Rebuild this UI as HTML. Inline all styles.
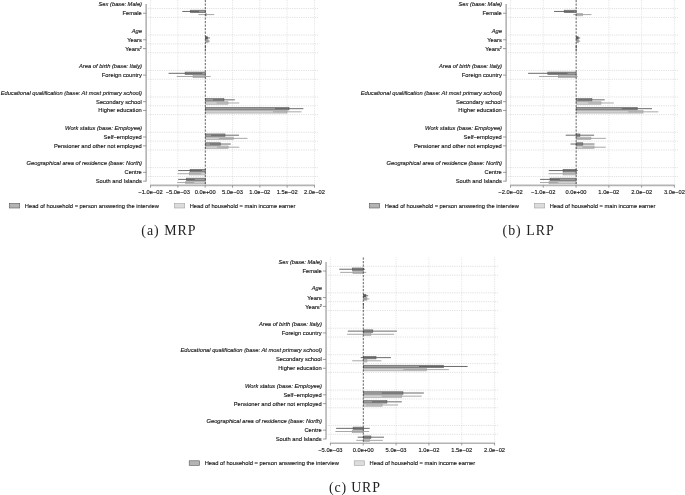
<!DOCTYPE html>
<html lang="en">
<head>
<meta charset="utf-8">
<title>Figure: MRP, LRP, URP</title>
<style>
html,body{margin:0;padding:0;background:#fff;}
body{width:685px;height:495px;overflow:hidden;}
svg{display:block;}
text{font-family:"Liberation Sans",Arial,Helvetica,sans-serif;font-size:5.75px;fill:#141414;stroke:#141414;stroke-width:0.13px;}
.ylab text{text-anchor:end;}
.ylab .it{font-style:italic;}
.sup{font-size:3.6px;}
.xlab text{text-anchor:middle;}
.grid line{stroke:#b8b8b8;stroke-width:0.6;stroke-dasharray:0.7 1.1;}
.grid line.v{stroke:#c8c8c8;}
.zero{stroke:#3a3a3a;stroke-width:0.8;stroke-dasharray:2.2 1.3;}
.axis line{stroke:#777;stroke-width:0.7;}
.axis line.ax{stroke:#b4b4b4;stroke-width:1.6;}
text.cap{font-family:"Liberation Serif","Times New Roman",serif;font-size:13.9px;text-anchor:middle;fill:#222;letter-spacing:1px;stroke:none;}
</style>
</head>
<body>
<svg width="685" height="495" viewBox="0 0 685 495">
<rect x="0" y="0" width="685" height="495" fill="#ffffff"/>
<g class="panel-a">
<g class="grid">
<line class="v" x1="150.5" y1="0" x2="150.5" y2="185.4"/>
<line class="v" x1="177.83" y1="0" x2="177.83" y2="185.4"/>
<line class="v" x1="232.5" y1="0" x2="232.5" y2="185.4"/>
<line class="v" x1="259.83" y1="0" x2="259.83" y2="185.4"/>
<line class="v" x1="287.17" y1="0" x2="287.17" y2="185.4"/>
<line class="v" x1="314.5" y1="0" x2="314.5" y2="185.4"/>
<line x1="146.15" y1="8.54" x2="318.9" y2="8.54"/>
<line x1="146.15" y1="17.38" x2="318.9" y2="17.38"/>
<line x1="146.15" y1="35.06" x2="318.9" y2="35.06"/>
<line x1="146.15" y1="43.9" x2="318.9" y2="43.9"/>
<line x1="146.15" y1="52.74" x2="318.9" y2="52.74"/>
<line x1="146.15" y1="70.42" x2="318.9" y2="70.42"/>
<line x1="146.15" y1="79.26" x2="318.9" y2="79.26"/>
<line x1="146.15" y1="96.94" x2="318.9" y2="96.94"/>
<line x1="146.15" y1="105.78" x2="318.9" y2="105.78"/>
<line x1="146.15" y1="114.62" x2="318.9" y2="114.62"/>
<line x1="146.15" y1="132.3" x2="318.9" y2="132.3"/>
<line x1="146.15" y1="141.14" x2="318.9" y2="141.14"/>
<line x1="146.15" y1="149.98" x2="318.9" y2="149.98"/>
<line x1="146.15" y1="167.66" x2="318.9" y2="167.66"/>
<line x1="146.15" y1="176.5" x2="318.9" y2="176.5"/>
</g>
<rect x="190.4" y="10.19" width="14.9" height="2.5" fill="#9a9a9a" stroke="#5a5a5a" stroke-width="0.6"/>
<line x1="182.3" y1="11.44" x2="199" y2="11.44" stroke="#5a5a5a" stroke-width="0.9"/>
<rect x="205.3" y="13.34" width="1" height="2.5" fill="#d0d0d0" stroke="#9e9e9e" stroke-width="0.6"/>
<line x1="198.4" y1="14.59" x2="214.2" y2="14.59" stroke="#9e9e9e" stroke-width="0.9"/>
<rect x="205.3" y="36.71" width="2.3" height="2.5" fill="#5a5a5a" stroke="#5a5a5a" stroke-width="0.6"/>
<line x1="205.6" y1="37.96" x2="209.9" y2="37.96" stroke="#5a5a5a" stroke-width="0.9"/>
<rect x="205.3" y="39.86" width="3.1" height="2.5" fill="#9e9e9e" stroke="#9e9e9e" stroke-width="0.6"/>
<line x1="206.3" y1="41.11" x2="210" y2="41.11" stroke="#9e9e9e" stroke-width="0.9"/>
<rect x="205.2" y="45.55" width="0.3" height="2.5" fill="#5a5a5a" stroke="#5a5a5a" stroke-width="0.6"/>
<line x1="205.1" y1="46.8" x2="205.3" y2="46.8" stroke="#5a5a5a" stroke-width="0.9"/>
<rect x="205.2" y="48.7" width="0.3" height="2.5" fill="#9e9e9e" stroke="#9e9e9e" stroke-width="0.6"/>
<line x1="205.1" y1="49.95" x2="205.3" y2="49.95" stroke="#9e9e9e" stroke-width="0.9"/>
<rect x="185.1" y="72.07" width="20.2" height="2.5" fill="#9a9a9a" stroke="#5a5a5a" stroke-width="0.6"/>
<line x1="168.6" y1="73.32" x2="202.2" y2="73.32" stroke="#5a5a5a" stroke-width="0.9"/>
<rect x="193.1" y="75.22" width="12.2" height="2.5" fill="#d0d0d0" stroke="#9e9e9e" stroke-width="0.6"/>
<line x1="176.7" y1="76.47" x2="210.6" y2="76.47" stroke="#9e9e9e" stroke-width="0.9"/>
<rect x="205.3" y="98.59" width="18.6" height="2.5" fill="#9a9a9a" stroke="#5a5a5a" stroke-width="0.6"/>
<line x1="213" y1="99.84" x2="234.8" y2="99.84" stroke="#5a5a5a" stroke-width="0.9"/>
<rect x="205.3" y="101.74" width="22.7" height="2.5" fill="#d0d0d0" stroke="#9e9e9e" stroke-width="0.6"/>
<line x1="216.6" y1="102.99" x2="239.3" y2="102.99" stroke="#9e9e9e" stroke-width="0.9"/>
<rect x="205.3" y="107.43" width="83.7" height="2.5" fill="#9a9a9a" stroke="#5a5a5a" stroke-width="0.6"/>
<line x1="275" y1="108.68" x2="303.4" y2="108.68" stroke="#5a5a5a" stroke-width="0.9"/>
<rect x="205.3" y="110.58" width="81.7" height="2.5" fill="#d0d0d0" stroke="#9e9e9e" stroke-width="0.6"/>
<line x1="273" y1="111.83" x2="301.5" y2="111.83" stroke="#9e9e9e" stroke-width="0.9"/>
<rect x="205.3" y="133.95" width="19.7" height="2.5" fill="#9a9a9a" stroke="#5a5a5a" stroke-width="0.6"/>
<line x1="211.1" y1="135.2" x2="239" y2="135.2" stroke="#5a5a5a" stroke-width="0.9"/>
<rect x="205.3" y="137.1" width="28.2" height="2.5" fill="#d0d0d0" stroke="#9e9e9e" stroke-width="0.6"/>
<line x1="218.8" y1="138.35" x2="247.5" y2="138.35" stroke="#9e9e9e" stroke-width="0.9"/>
<rect x="205.3" y="142.79" width="15" height="2.5" fill="#9a9a9a" stroke="#5a5a5a" stroke-width="0.6"/>
<line x1="209.8" y1="144.04" x2="230.8" y2="144.04" stroke="#5a5a5a" stroke-width="0.9"/>
<rect x="205.3" y="145.94" width="22.8" height="2.5" fill="#d0d0d0" stroke="#9e9e9e" stroke-width="0.6"/>
<line x1="217" y1="147.19" x2="239.3" y2="147.19" stroke="#9e9e9e" stroke-width="0.9"/>
<rect x="190.1" y="169.31" width="15.2" height="2.5" fill="#9a9a9a" stroke="#5a5a5a" stroke-width="0.6"/>
<line x1="178.2" y1="170.56" x2="202" y2="170.56" stroke="#5a5a5a" stroke-width="0.9"/>
<rect x="189.5" y="172.46" width="15.8" height="2.5" fill="#d0d0d0" stroke="#9e9e9e" stroke-width="0.6"/>
<line x1="177.7" y1="173.71" x2="201.3" y2="173.71" stroke="#9e9e9e" stroke-width="0.9"/>
<rect x="186.4" y="178.15" width="18.9" height="2.5" fill="#9a9a9a" stroke="#5a5a5a" stroke-width="0.6"/>
<line x1="178.2" y1="179.4" x2="194.7" y2="179.4" stroke="#5a5a5a" stroke-width="0.9"/>
<rect x="185.7" y="181.3" width="19.6" height="2.5" fill="#d0d0d0" stroke="#9e9e9e" stroke-width="0.6"/>
<line x1="177.2" y1="182.55" x2="194.2" y2="182.55" stroke="#9e9e9e" stroke-width="0.9"/>
<line class="zero" x1="205.3" y1="0" x2="205.3" y2="185.4"/>
<g class="axis">
<line class="ax" x1="146.15" y1="4.1" x2="146.15" y2="181.5"/>
<line class="ax" x1="150.1" y1="185.4" x2="314.9" y2="185.4"/>
<line x1="143" y1="13.24" x2="146.15" y2="13.24"/>
<line x1="143" y1="39.76" x2="146.15" y2="39.76"/>
<line x1="143" y1="48.6" x2="146.15" y2="48.6"/>
<line x1="143" y1="75.12" x2="146.15" y2="75.12"/>
<line x1="143" y1="101.64" x2="146.15" y2="101.64"/>
<line x1="143" y1="110.48" x2="146.15" y2="110.48"/>
<line x1="143" y1="137" x2="146.15" y2="137"/>
<line x1="143" y1="145.84" x2="146.15" y2="145.84"/>
<line x1="143" y1="172.36" x2="146.15" y2="172.36"/>
<line x1="143" y1="181.2" x2="146.15" y2="181.2"/>
<line x1="150.5" y1="185.4" x2="150.5" y2="187.7"/>
<line x1="177.83" y1="185.4" x2="177.83" y2="187.7"/>
<line x1="205.17" y1="185.4" x2="205.17" y2="187.7"/>
<line x1="232.5" y1="185.4" x2="232.5" y2="187.7"/>
<line x1="259.83" y1="185.4" x2="259.83" y2="187.7"/>
<line x1="287.17" y1="185.4" x2="287.17" y2="187.7"/>
<line x1="314.5" y1="185.4" x2="314.5" y2="187.7"/>
</g>
<g class="ylab">
<text x="142" y="6.1" class="it">Sex (base: Male)</text>
<text x="141.8" y="15.42">Female</text>
<text x="142" y="32.62" class="it">Age</text>
<text x="141.8" y="41.88">Years</text>
<text x="141.8" y="50.7">Years<tspan class="sup" dy="-2">2</tspan></text>
<text x="142" y="67.98" class="it">Area of birth (base: Italy)</text>
<text x="141.8" y="77.16">Foreign country</text>
<text x="142" y="94.5" class="it">Educational qualification (base: At most primary school)</text>
<text x="141.8" y="103.62">Secondary school</text>
<text x="141.8" y="112.44">Higher education</text>
<text x="142" y="129.86" class="it">Work status (base: Employee)</text>
<text x="141.8" y="138.9">Self−employed</text>
<text x="141.8" y="147.72">Pensioner and other not employed</text>
<text x="142" y="165.22" class="it">Geographical area of residence (base: North)</text>
<text x="141.8" y="174.18">Centre</text>
<text x="141.8" y="183">South and Islands</text>
</g>
<g class="xlab">
<text x="150.5" y="193.7">−1.0e−02</text>
<text x="177.83" y="193.7">−5.0e−03</text>
<text x="205.17" y="193.7">0.0e+00</text>
<text x="232.5" y="193.7">5.0e−03</text>
<text x="259.83" y="193.7">1.0e−02</text>
<text x="287.17" y="193.7">1.5e−02</text>
<text x="314.5" y="193.7">2.0e−02</text>
</g>
<g class="leg">
<rect x="9.3" y="203.4" width="10.4" height="4.6" fill="#b4b4b4" stroke="#5a5a5a" stroke-width="0.6"/>
<text x="24.8" y="207.7">Head of household = person answering the interview</text>
<rect x="174.3" y="203.4" width="10.4" height="4.6" fill="#dcdcdc" stroke="#a4a4a4" stroke-width="0.6"/>
<text x="189.7" y="207.7">Head of household = main income earner</text>
</g>
<text class="cap" x="168.9" y="234.7">(a) MRP</text>
</g>
<g class="panel-b">
<g class="grid">
<line class="v" x1="510.5" y1="0" x2="510.5" y2="185.4"/>
<line class="v" x1="543.28" y1="0" x2="543.28" y2="185.4"/>
<line class="v" x1="608.84" y1="0" x2="608.84" y2="185.4"/>
<line class="v" x1="641.62" y1="0" x2="641.62" y2="185.4"/>
<line class="v" x1="674.4" y1="0" x2="674.4" y2="185.4"/>
<line x1="506.15" y1="8.54" x2="678.9" y2="8.54"/>
<line x1="506.15" y1="17.38" x2="678.9" y2="17.38"/>
<line x1="506.15" y1="35.06" x2="678.9" y2="35.06"/>
<line x1="506.15" y1="43.9" x2="678.9" y2="43.9"/>
<line x1="506.15" y1="52.74" x2="678.9" y2="52.74"/>
<line x1="506.15" y1="70.42" x2="678.9" y2="70.42"/>
<line x1="506.15" y1="79.26" x2="678.9" y2="79.26"/>
<line x1="506.15" y1="96.94" x2="678.9" y2="96.94"/>
<line x1="506.15" y1="105.78" x2="678.9" y2="105.78"/>
<line x1="506.15" y1="114.62" x2="678.9" y2="114.62"/>
<line x1="506.15" y1="132.3" x2="678.9" y2="132.3"/>
<line x1="506.15" y1="141.14" x2="678.9" y2="141.14"/>
<line x1="506.15" y1="149.98" x2="678.9" y2="149.98"/>
<line x1="506.15" y1="167.66" x2="678.9" y2="167.66"/>
<line x1="506.15" y1="176.5" x2="678.9" y2="176.5"/>
</g>
<rect x="564.2" y="10.19" width="11.95" height="2.5" fill="#9a9a9a" stroke="#5a5a5a" stroke-width="0.6"/>
<line x1="554" y1="11.44" x2="574.4" y2="11.44" stroke="#5a5a5a" stroke-width="0.9"/>
<rect x="576.15" y="13.34" width="6.45" height="2.5" fill="#d0d0d0" stroke="#9e9e9e" stroke-width="0.6"/>
<line x1="573.3" y1="14.59" x2="591.5" y2="14.59" stroke="#9e9e9e" stroke-width="0.9"/>
<rect x="576.15" y="36.71" width="2.05" height="2.5" fill="#5a5a5a" stroke="#5a5a5a" stroke-width="0.6"/>
<line x1="576.4" y1="37.96" x2="580.2" y2="37.96" stroke="#5a5a5a" stroke-width="0.9"/>
<rect x="576.15" y="39.86" width="2.65" height="2.5" fill="#9e9e9e" stroke="#9e9e9e" stroke-width="0.6"/>
<line x1="577.2" y1="41.11" x2="580.3" y2="41.11" stroke="#9e9e9e" stroke-width="0.9"/>
<rect x="576" y="45.55" width="0.3" height="2.5" fill="#5a5a5a" stroke="#5a5a5a" stroke-width="0.6"/>
<line x1="575.9" y1="46.8" x2="576.1" y2="46.8" stroke="#5a5a5a" stroke-width="0.9"/>
<rect x="576" y="48.7" width="0.3" height="2.5" fill="#9e9e9e" stroke="#9e9e9e" stroke-width="0.6"/>
<line x1="575.9" y1="49.95" x2="576.1" y2="49.95" stroke="#9e9e9e" stroke-width="0.9"/>
<rect x="547.8" y="72.07" width="28.35" height="2.5" fill="#9a9a9a" stroke="#5a5a5a" stroke-width="0.6"/>
<line x1="528.1" y1="73.32" x2="567.5" y2="73.32" stroke="#5a5a5a" stroke-width="0.9"/>
<rect x="558.3" y="75.22" width="17.85" height="2.5" fill="#d0d0d0" stroke="#9e9e9e" stroke-width="0.6"/>
<line x1="539" y1="76.47" x2="577.7" y2="76.47" stroke="#9e9e9e" stroke-width="0.9"/>
<rect x="576.15" y="98.59" width="15.75" height="2.5" fill="#9a9a9a" stroke="#5a5a5a" stroke-width="0.6"/>
<line x1="578" y1="99.84" x2="604.7" y2="99.84" stroke="#5a5a5a" stroke-width="0.9"/>
<rect x="576.15" y="101.74" width="24.85" height="2.5" fill="#d0d0d0" stroke="#9e9e9e" stroke-width="0.6"/>
<line x1="588.2" y1="102.99" x2="613.8" y2="102.99" stroke="#9e9e9e" stroke-width="0.9"/>
<rect x="576.15" y="107.43" width="61.05" height="2.5" fill="#9a9a9a" stroke="#5a5a5a" stroke-width="0.6"/>
<line x1="621.8" y1="108.68" x2="652" y2="108.68" stroke="#5a5a5a" stroke-width="0.9"/>
<rect x="576.15" y="110.58" width="66.85" height="2.5" fill="#d0d0d0" stroke="#9e9e9e" stroke-width="0.6"/>
<line x1="628.1" y1="111.83" x2="658.3" y2="111.83" stroke="#9e9e9e" stroke-width="0.9"/>
<rect x="576.15" y="133.95" width="3.75" height="2.5" fill="#9a9a9a" stroke="#5a5a5a" stroke-width="0.6"/>
<line x1="565.7" y1="135.2" x2="594.1" y2="135.2" stroke="#5a5a5a" stroke-width="0.9"/>
<rect x="576.15" y="137.1" width="14.75" height="2.5" fill="#d0d0d0" stroke="#9e9e9e" stroke-width="0.6"/>
<line x1="576" y1="138.35" x2="605.8" y2="138.35" stroke="#9e9e9e" stroke-width="0.9"/>
<rect x="576.15" y="142.79" width="6.65" height="2.5" fill="#9a9a9a" stroke="#5a5a5a" stroke-width="0.6"/>
<line x1="570.5" y1="144.04" x2="594.5" y2="144.04" stroke="#5a5a5a" stroke-width="0.9"/>
<rect x="576.15" y="145.94" width="17.95" height="2.5" fill="#d0d0d0" stroke="#9e9e9e" stroke-width="0.6"/>
<line x1="582.4" y1="147.19" x2="605.8" y2="147.19" stroke="#9e9e9e" stroke-width="0.9"/>
<rect x="563.1" y="169.31" width="13.05" height="2.5" fill="#9a9a9a" stroke="#5a5a5a" stroke-width="0.6"/>
<line x1="548.8" y1="170.56" x2="577.7" y2="170.56" stroke="#5a5a5a" stroke-width="0.9"/>
<rect x="563.1" y="172.46" width="13.05" height="2.5" fill="#d0d0d0" stroke="#9e9e9e" stroke-width="0.6"/>
<line x1="548.5" y1="173.71" x2="577.3" y2="173.71" stroke="#9e9e9e" stroke-width="0.9"/>
<rect x="550" y="178.15" width="26.15" height="2.5" fill="#9a9a9a" stroke="#5a5a5a" stroke-width="0.6"/>
<line x1="540" y1="179.4" x2="559.9" y2="179.4" stroke="#5a5a5a" stroke-width="0.9"/>
<rect x="549.1" y="181.3" width="27.05" height="2.5" fill="#d0d0d0" stroke="#9e9e9e" stroke-width="0.6"/>
<line x1="540" y1="182.55" x2="558.2" y2="182.55" stroke="#9e9e9e" stroke-width="0.9"/>
<line class="zero" x1="576.15" y1="0" x2="576.15" y2="185.4"/>
<g class="axis">
<line class="ax" x1="506.15" y1="4.1" x2="506.15" y2="181.5"/>
<line class="ax" x1="510.1" y1="185.4" x2="674.8" y2="185.4"/>
<line x1="503" y1="13.24" x2="506.15" y2="13.24"/>
<line x1="503" y1="39.76" x2="506.15" y2="39.76"/>
<line x1="503" y1="48.6" x2="506.15" y2="48.6"/>
<line x1="503" y1="75.12" x2="506.15" y2="75.12"/>
<line x1="503" y1="101.64" x2="506.15" y2="101.64"/>
<line x1="503" y1="110.48" x2="506.15" y2="110.48"/>
<line x1="503" y1="137" x2="506.15" y2="137"/>
<line x1="503" y1="145.84" x2="506.15" y2="145.84"/>
<line x1="503" y1="172.36" x2="506.15" y2="172.36"/>
<line x1="503" y1="181.2" x2="506.15" y2="181.2"/>
<line x1="510.5" y1="185.4" x2="510.5" y2="187.7"/>
<line x1="543.28" y1="185.4" x2="543.28" y2="187.7"/>
<line x1="576.06" y1="185.4" x2="576.06" y2="187.7"/>
<line x1="608.84" y1="185.4" x2="608.84" y2="187.7"/>
<line x1="641.62" y1="185.4" x2="641.62" y2="187.7"/>
<line x1="674.4" y1="185.4" x2="674.4" y2="187.7"/>
</g>
<g class="ylab">
<text x="502" y="6.1" class="it">Sex (base: Male)</text>
<text x="501.8" y="15.42">Female</text>
<text x="502" y="32.62" class="it">Age</text>
<text x="501.8" y="41.88">Years</text>
<text x="501.8" y="50.7">Years<tspan class="sup" dy="-2">2</tspan></text>
<text x="502" y="67.98" class="it">Area of birth (base: Italy)</text>
<text x="501.8" y="77.16">Foreign country</text>
<text x="502" y="94.5" class="it">Educational qualification (base: At most primary school)</text>
<text x="501.8" y="103.62">Secondary school</text>
<text x="501.8" y="112.44">Higher education</text>
<text x="502" y="129.86" class="it">Work status (base: Employee)</text>
<text x="501.8" y="138.9">Self−employed</text>
<text x="501.8" y="147.72">Pensioner and other not employed</text>
<text x="502" y="165.22" class="it">Geographical area of residence (base: North)</text>
<text x="501.8" y="174.18">Centre</text>
<text x="501.8" y="183">South and Islands</text>
</g>
<g class="xlab">
<text x="510.5" y="193.7">−2.0e−02</text>
<text x="543.28" y="193.7">−1.0e−02</text>
<text x="576.06" y="193.7">0.0e+00</text>
<text x="608.84" y="193.7">1.0e−02</text>
<text x="641.62" y="193.7">2.0e−02</text>
<text x="674.4" y="193.7">3.0e−02</text>
</g>
<g class="leg">
<rect x="369.3" y="203.4" width="10.4" height="4.6" fill="#b4b4b4" stroke="#5a5a5a" stroke-width="0.6"/>
<text x="384.8" y="207.7">Head of household = person answering the interview</text>
<rect x="534.3" y="203.4" width="10.4" height="4.6" fill="#dcdcdc" stroke="#a4a4a4" stroke-width="0.6"/>
<text x="549.7" y="207.7">Head of household = main income earner</text>
</g>
<text class="cap" x="528.6" y="234.7">(b) LRP</text>
</g>
<g class="panel-c">
<g class="grid">
<line class="v" x1="330.4" y1="257.5" x2="330.4" y2="443.2"/>
<line class="v" x1="396.08" y1="257.5" x2="396.08" y2="443.2"/>
<line class="v" x1="428.92" y1="257.5" x2="428.92" y2="443.2"/>
<line class="v" x1="461.76" y1="257.5" x2="461.76" y2="443.2"/>
<line class="v" x1="494.6" y1="257.5" x2="494.6" y2="443.2"/>
<line x1="326.05" y1="266.34" x2="498.8" y2="266.34"/>
<line x1="326.05" y1="275.18" x2="498.8" y2="275.18"/>
<line x1="326.05" y1="292.86" x2="498.8" y2="292.86"/>
<line x1="326.05" y1="301.7" x2="498.8" y2="301.7"/>
<line x1="326.05" y1="310.54" x2="498.8" y2="310.54"/>
<line x1="326.05" y1="328.22" x2="498.8" y2="328.22"/>
<line x1="326.05" y1="337.06" x2="498.8" y2="337.06"/>
<line x1="326.05" y1="354.74" x2="498.8" y2="354.74"/>
<line x1="326.05" y1="363.58" x2="498.8" y2="363.58"/>
<line x1="326.05" y1="372.42" x2="498.8" y2="372.42"/>
<line x1="326.05" y1="390.1" x2="498.8" y2="390.1"/>
<line x1="326.05" y1="398.94" x2="498.8" y2="398.94"/>
<line x1="326.05" y1="407.78" x2="498.8" y2="407.78"/>
<line x1="326.05" y1="425.46" x2="498.8" y2="425.46"/>
<line x1="326.05" y1="434.3" x2="498.8" y2="434.3"/>
</g>
<rect x="352.3" y="267.99" width="11" height="2.5" fill="#9a9a9a" stroke="#5a5a5a" stroke-width="0.6"/>
<line x1="339.2" y1="269.24" x2="364.9" y2="269.24" stroke="#5a5a5a" stroke-width="0.9"/>
<rect x="352.9" y="271.14" width="10.4" height="2.5" fill="#d0d0d0" stroke="#9e9e9e" stroke-width="0.6"/>
<line x1="340.2" y1="272.39" x2="366.2" y2="272.39" stroke="#9e9e9e" stroke-width="0.9"/>
<rect x="363.3" y="294.51" width="2.6" height="2.5" fill="#5a5a5a" stroke="#5a5a5a" stroke-width="0.6"/>
<line x1="363.7" y1="295.76" x2="368.2" y2="295.76" stroke="#5a5a5a" stroke-width="0.9"/>
<rect x="363.3" y="297.66" width="3.6" height="2.5" fill="#9e9e9e" stroke="#9e9e9e" stroke-width="0.6"/>
<line x1="364.5" y1="298.91" x2="369.4" y2="298.91" stroke="#9e9e9e" stroke-width="0.9"/>
<rect x="363.2" y="303.35" width="0.3" height="2.5" fill="#5a5a5a" stroke="#5a5a5a" stroke-width="0.6"/>
<line x1="363.1" y1="304.6" x2="363.3" y2="304.6" stroke="#5a5a5a" stroke-width="0.9"/>
<rect x="363.2" y="306.5" width="0.3" height="2.5" fill="#9e9e9e" stroke="#9e9e9e" stroke-width="0.6"/>
<line x1="363.1" y1="307.75" x2="363.3" y2="307.75" stroke="#9e9e9e" stroke-width="0.9"/>
<rect x="363.3" y="329.87" width="9.5" height="2.5" fill="#9a9a9a" stroke="#5a5a5a" stroke-width="0.6"/>
<line x1="347.8" y1="331.12" x2="396.9" y2="331.12" stroke="#5a5a5a" stroke-width="0.9"/>
<rect x="363.3" y="333.02" width="7.6" height="2.5" fill="#d0d0d0" stroke="#9e9e9e" stroke-width="0.6"/>
<line x1="347.1" y1="334.27" x2="394.2" y2="334.27" stroke="#9e9e9e" stroke-width="0.9"/>
<rect x="363.3" y="356.39" width="12.7" height="2.5" fill="#9a9a9a" stroke="#5a5a5a" stroke-width="0.6"/>
<line x1="360.7" y1="357.64" x2="390.9" y2="357.64" stroke="#5a5a5a" stroke-width="0.9"/>
<rect x="363.3" y="359.54" width="3.6" height="2.5" fill="#d0d0d0" stroke="#9e9e9e" stroke-width="0.6"/>
<line x1="352.2" y1="360.79" x2="381.4" y2="360.79" stroke="#9e9e9e" stroke-width="0.9"/>
<rect x="363.3" y="365.23" width="80.1" height="2.5" fill="#9a9a9a" stroke="#5a5a5a" stroke-width="0.6"/>
<line x1="419" y1="366.48" x2="467.6" y2="366.48" stroke="#5a5a5a" stroke-width="0.9"/>
<rect x="363.3" y="368.38" width="63" height="2.5" fill="#d0d0d0" stroke="#9e9e9e" stroke-width="0.6"/>
<line x1="403.5" y1="369.63" x2="448.9" y2="369.63" stroke="#9e9e9e" stroke-width="0.9"/>
<rect x="363.3" y="391.75" width="39.7" height="2.5" fill="#9a9a9a" stroke="#5a5a5a" stroke-width="0.6"/>
<line x1="381.8" y1="393" x2="423.9" y2="393" stroke="#5a5a5a" stroke-width="0.9"/>
<rect x="363.3" y="394.9" width="38.5" height="2.5" fill="#d0d0d0" stroke="#9e9e9e" stroke-width="0.6"/>
<line x1="381.8" y1="396.15" x2="421.7" y2="396.15" stroke="#9e9e9e" stroke-width="0.9"/>
<rect x="363.3" y="400.59" width="23.6" height="2.5" fill="#9a9a9a" stroke="#5a5a5a" stroke-width="0.6"/>
<line x1="371.9" y1="401.84" x2="401.8" y2="401.84" stroke="#5a5a5a" stroke-width="0.9"/>
<rect x="363.3" y="403.74" width="18.8" height="2.5" fill="#d0d0d0" stroke="#9e9e9e" stroke-width="0.6"/>
<line x1="365.8" y1="404.99" x2="398.2" y2="404.99" stroke="#9e9e9e" stroke-width="0.9"/>
<rect x="353.1" y="427.11" width="10.2" height="2.5" fill="#9a9a9a" stroke="#5a5a5a" stroke-width="0.6"/>
<line x1="336.1" y1="428.36" x2="369.7" y2="428.36" stroke="#5a5a5a" stroke-width="0.9"/>
<rect x="352.2" y="430.26" width="11.1" height="2.5" fill="#d0d0d0" stroke="#9e9e9e" stroke-width="0.6"/>
<line x1="335.4" y1="431.51" x2="369.1" y2="431.51" stroke="#9e9e9e" stroke-width="0.9"/>
<rect x="363.3" y="435.95" width="7.6" height="2.5" fill="#9a9a9a" stroke="#5a5a5a" stroke-width="0.6"/>
<line x1="357.7" y1="437.2" x2="384" y2="437.2" stroke="#5a5a5a" stroke-width="0.9"/>
<rect x="363.3" y="439.1" width="6.4" height="2.5" fill="#d0d0d0" stroke="#9e9e9e" stroke-width="0.6"/>
<line x1="356.3" y1="440.35" x2="382.8" y2="440.35" stroke="#9e9e9e" stroke-width="0.9"/>
<line class="zero" x1="363.3" y1="257.5" x2="363.3" y2="443.2"/>
<g class="axis">
<line class="ax" x1="326.05" y1="261.9" x2="326.05" y2="439.3"/>
<line class="ax" x1="330" y1="443.2" x2="495" y2="443.2"/>
<line x1="322.9" y1="271.04" x2="326.05" y2="271.04"/>
<line x1="322.9" y1="297.56" x2="326.05" y2="297.56"/>
<line x1="322.9" y1="306.4" x2="326.05" y2="306.4"/>
<line x1="322.9" y1="332.92" x2="326.05" y2="332.92"/>
<line x1="322.9" y1="359.44" x2="326.05" y2="359.44"/>
<line x1="322.9" y1="368.28" x2="326.05" y2="368.28"/>
<line x1="322.9" y1="394.8" x2="326.05" y2="394.8"/>
<line x1="322.9" y1="403.64" x2="326.05" y2="403.64"/>
<line x1="322.9" y1="430.16" x2="326.05" y2="430.16"/>
<line x1="322.9" y1="439" x2="326.05" y2="439"/>
<line x1="330.4" y1="443.2" x2="330.4" y2="445.5"/>
<line x1="363.24" y1="443.2" x2="363.24" y2="445.5"/>
<line x1="396.08" y1="443.2" x2="396.08" y2="445.5"/>
<line x1="428.92" y1="443.2" x2="428.92" y2="445.5"/>
<line x1="461.76" y1="443.2" x2="461.76" y2="445.5"/>
<line x1="494.6" y1="443.2" x2="494.6" y2="445.5"/>
</g>
<g class="ylab">
<text x="321.9" y="263.9" class="it">Sex (base: Male)</text>
<text x="321.7" y="273.22">Female</text>
<text x="321.9" y="290.42" class="it">Age</text>
<text x="321.7" y="299.68">Years</text>
<text x="321.7" y="308.5">Years<tspan class="sup" dy="-2">2</tspan></text>
<text x="321.9" y="325.78" class="it">Area of birth (base: Italy)</text>
<text x="321.7" y="334.96">Foreign country</text>
<text x="321.9" y="352.3" class="it">Educational qualification (base: At most primary school)</text>
<text x="321.7" y="361.42">Secondary school</text>
<text x="321.7" y="370.24">Higher education</text>
<text x="321.9" y="387.66" class="it">Work status (base: Employee)</text>
<text x="321.7" y="396.7">Self−employed</text>
<text x="321.7" y="405.52">Pensioner and other not employed</text>
<text x="321.9" y="423.02" class="it">Geographical area of residence (base: North)</text>
<text x="321.7" y="431.98">Centre</text>
<text x="321.7" y="440.8">South and Islands</text>
</g>
<g class="xlab">
<text x="330.4" y="451.5">−5.0e−03</text>
<text x="363.24" y="451.5">0.0e+00</text>
<text x="396.08" y="451.5">5.0e−03</text>
<text x="428.92" y="451.5">1.0e−02</text>
<text x="461.76" y="451.5">1.5e−02</text>
<text x="494.6" y="451.5">2.0e−02</text>
</g>
<g class="leg">
<rect x="189.2" y="460.8" width="10.4" height="4.6" fill="#b4b4b4" stroke="#5a5a5a" stroke-width="0.6"/>
<text x="204.7" y="465.1">Head of household = person answering the interview</text>
<rect x="354.2" y="460.8" width="10.4" height="4.6" fill="#dcdcdc" stroke="#a4a4a4" stroke-width="0.6"/>
<text x="369.6" y="465.1">Head of household = main income earner</text>
</g>
<text class="cap" style="letter-spacing:0.83px" x="354.9" y="491.5">(c) URP</text>
</g>
</svg>
</body>
</html>
